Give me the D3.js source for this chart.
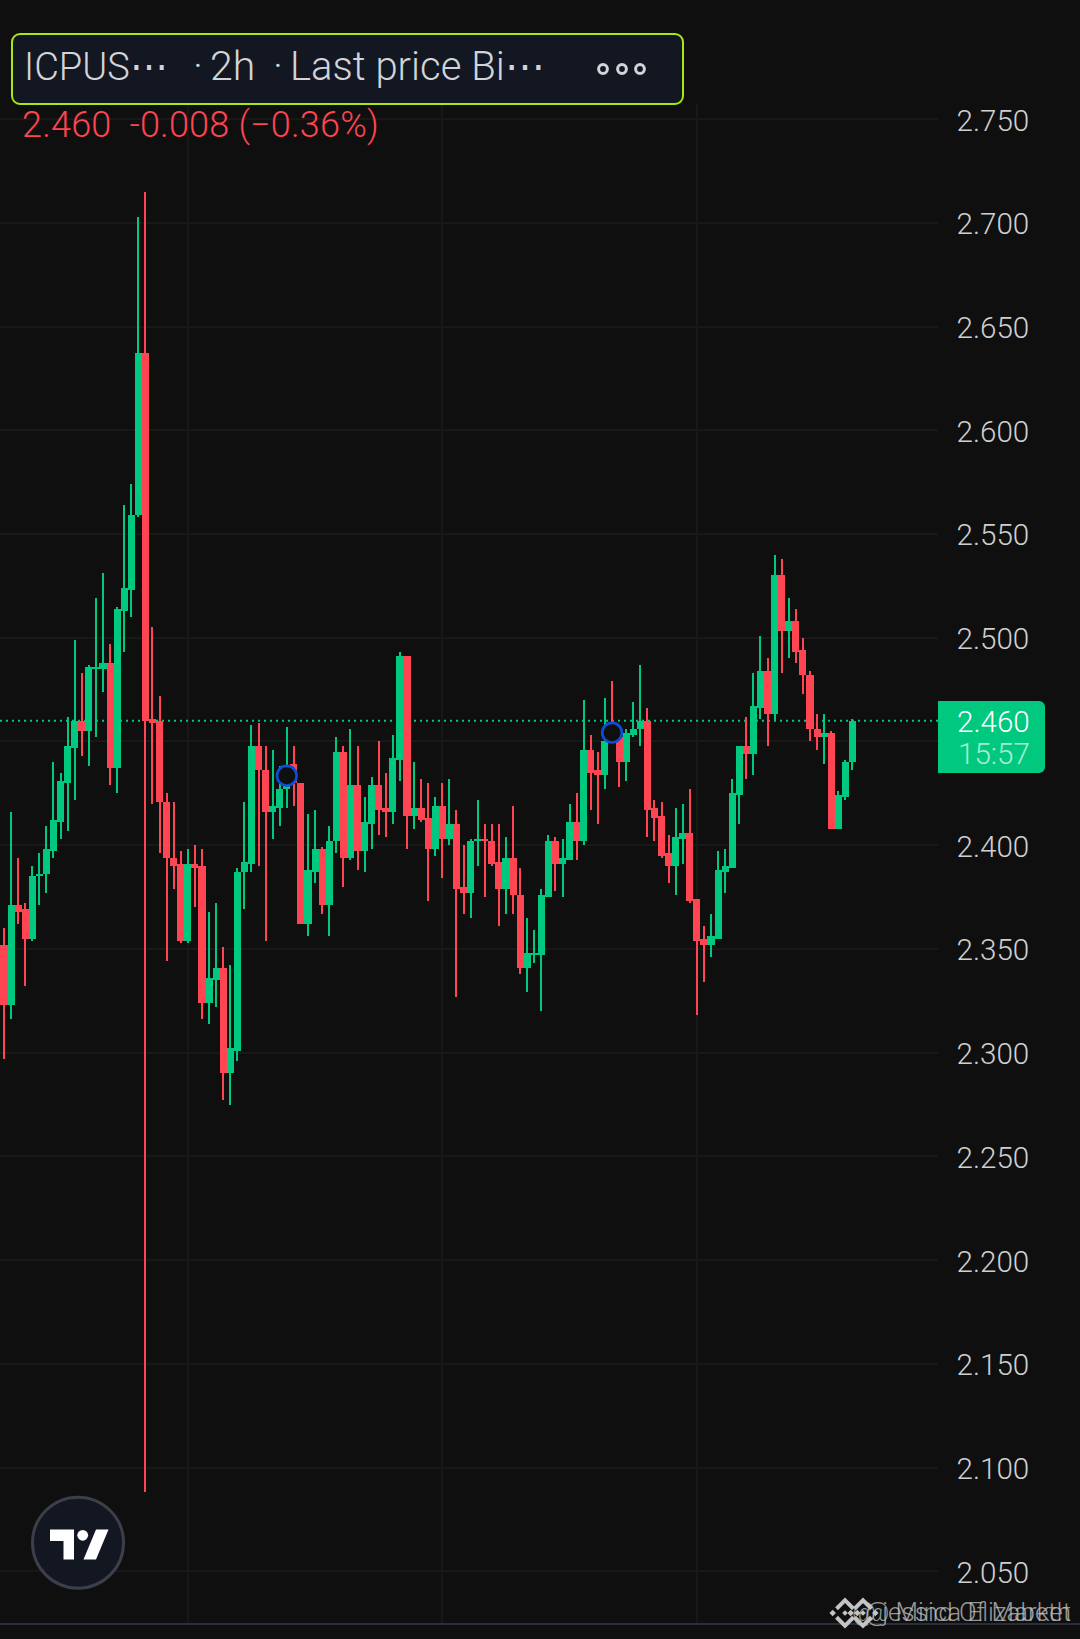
<!DOCTYPE html>
<html>
<head>
<meta charset="utf-8">
<style>
  html, body { margin: 0; padding: 0; background: #0f0f0f; }
  svg { display: block; }
  text { font-family: Roboto, "Noto Sans", sans-serif; font-weight: 300; }
</style>
<script src="https://cdn.jsdelivr.net/npm/d3@7"></script>
</head>
<body>
<div id="chart"></div>
<script>
// candle values, left to right
const opens = [2.352,2.323,2.371,2.369,2.355,2.385,2.386,2.397,2.411,2.430,2.447,2.460,2.455,2.485,2.485,2.488,2.437,2.513,2.523,2.559,2.637,
  2.461,2.460,2.421,2.394,2.391,2.354,2.391,2.390,2.324,2.335,2.341,2.290,2.301,2.387,2.391,2.448,2.436,2.416,2.418,2.427,
  2.439,2.430,2.362,2.387,2.398,2.371,2.402,2.445,2.394,2.429,2.397,2.410,2.429,2.418,2.416,2.441,2.491,2.414,2.418,2.413,
  2.398,2.419,2.403,2.410,2.380,2.377,2.402,2.403,2.402,2.392,2.379,2.394,2.376,2.341,2.347,2.347,2.375,2.402,2.391,2.393,
  2.411,2.402,2.446,2.436,2.434,2.456,2.452,2.440,2.453,2.456,2.460,2.418,2.414,2.396,2.390,2.403,2.406,2.374,2.355,2.352,
  2.355,2.387,2.389,2.424,2.448,2.444,2.466,2.484,2.463,2.530,2.503,2.508,2.494,2.482,2.456,2.452,2.454,2.408,2.423,2.440];
const closes = [2.323,2.371,2.368,2.355,2.385,2.386,2.398,2.412,2.431,2.448,2.460,2.455,2.486,2.486,2.488,2.437,2.514,2.524,2.559,2.637,2.460,
  2.459,2.421,2.394,2.390,2.354,2.391,2.389,2.324,2.336,2.341,2.290,2.302,2.387,2.392,2.448,2.436,2.416,2.419,2.427,2.437,
  2.430,2.362,2.388,2.398,2.371,2.402,2.445,2.394,2.429,2.397,2.411,2.429,2.417,2.416,2.442,2.491,2.414,2.418,2.412,2.398,
  2.419,2.403,2.410,2.379,2.377,2.402,2.403,2.402,2.391,2.379,2.394,2.376,2.341,2.348,2.348,2.376,2.402,2.391,2.394,2.411,
  2.402,2.446,2.435,2.434,2.450,2.451,2.440,2.454,2.456,2.460,2.417,2.413,2.395,2.390,2.404,2.406,2.373,2.354,2.352,2.356,
  2.388,2.390,2.425,2.448,2.444,2.467,2.484,2.463,2.530,2.503,2.508,2.493,2.482,2.456,2.452,2.454,2.408,2.424,2.440,2.460];
const highs = [2.360,2.416,2.394,2.372,2.390,2.396,2.409,2.440,2.435,2.462,2.499,2.483,2.487,2.519,2.531,2.497,2.515,2.564,2.574,2.703,2.715,
  2.505,2.472,2.425,2.421,2.397,2.398,2.400,2.398,2.368,2.372,2.351,2.342,2.389,2.421,2.458,2.459,2.448,2.446,2.438,2.457,
  2.448,2.430,2.415,2.417,2.399,2.409,2.452,2.448,2.456,2.448,2.423,2.433,2.450,2.435,2.453,2.493,2.491,2.440,2.432,2.430,
  2.423,2.430,2.432,2.417,2.400,2.403,2.422,2.410,2.410,2.410,2.404,2.419,2.389,2.365,2.359,2.379,2.405,2.404,2.403,2.420,
  2.425,2.470,2.453,2.445,2.471,2.479,2.456,2.456,2.469,2.487,2.466,2.422,2.421,2.405,2.418,2.420,2.427,2.374,2.361,2.367,
  2.397,2.398,2.432,2.448,2.462,2.483,2.501,2.490,2.540,2.538,2.519,2.514,2.500,2.484,2.463,2.463,2.455,2.426,2.441,2.461];
const lows = [2.297,2.316,2.362,2.332,2.354,2.371,2.377,2.394,2.403,2.407,2.422,2.443,2.438,2.452,2.474,2.429,2.425,2.493,2.510,2.558,2.088,
  2.420,2.396,2.344,2.379,2.353,2.353,2.370,2.316,2.314,2.322,2.277,2.275,2.296,2.369,2.387,2.390,2.354,2.403,2.409,2.418,
  2.419,2.362,2.356,2.382,2.367,2.356,2.396,2.380,2.393,2.388,2.387,2.398,2.405,2.404,2.410,2.431,2.398,2.408,2.411,2.373,
  2.395,2.384,2.400,2.327,2.367,2.365,2.390,2.375,2.390,2.361,2.367,2.367,2.338,2.329,2.343,2.320,2.375,2.378,2.375,2.393,
  2.393,2.400,2.417,2.410,2.427,2.450,2.428,2.431,2.452,2.448,2.404,2.402,2.394,2.382,2.376,2.391,2.372,2.318,2.334,2.346,
  2.355,2.377,2.389,2.410,2.432,2.434,2.461,2.448,2.460,2.483,2.490,2.488,2.473,2.450,2.446,2.439,2.408,2.408,2.422,2.436];

const priceTicks = [2.05,2.1,2.15,2.2,2.25,2.3,2.35,2.4,2.45,2.5,2.55,2.6,2.65,2.7,2.75];
const timeGridBars = [26,62,98];
const markerBars = [40,86];
const markerPrices = [2.4335,2.4542];
const lastPrice = 2.46;

const W = 1080, H = 1639;
const GREEN = "#00c97f", RED = "#ff4452", BG = "#0f0f0f", GRID = "#181818";
const plotRight = 938;

const x = d3.scaleLinear().domain([0, opens.length - 1]).range([4, 852.4]);
const y = d3.scaleLinear().domain([2.5, 2.35]).range([637.7, 948.9]);

const svg = d3.select("#chart").append("svg")
  .attr("width", W)
  .attr("height", H)
  .attr("viewBox", `0 0 ${W} ${H}`);

svg.append("rect").attr("width", W).attr("height", H).attr("fill", BG);

// grid
const gridG = svg.append("g").attr("shape-rendering", "crispEdges");
gridG.selectAll(".h").data(priceTicks).enter().append("line")
  .attr("x1", 0).attr("x2", plotRight)
  .attr("y1", d => y(d)).attr("y2", d => y(d))
  .attr("stroke", GRID).attr("stroke-width", 2);
gridG.selectAll(".v").data(timeGridBars).enter().append("line")
  .attr("x1", d => x(d)).attr("x2", d => x(d))
  .attr("y1", 104).attr("y2", 1624)
  .attr("stroke", GRID).attr("stroke-width", 2);

// bottom border
svg.append("line")
  .attr("x1", 0).attr("x2", W).attr("y1", 1624).attr("y2", 1624)
  .attr("stroke", "#2a2e39").attr("stroke-width", 2);

// last price line
svg.append("line")
  .attr("x1", 0).attr("x2", plotRight)
  .attr("y1", y(lastPrice)).attr("y2", y(lastPrice))
  .attr("stroke", GREEN).attr("stroke-width", 2)
  .attr("stroke-dasharray", "2 4");

// candles, snapped to whole pixels so neighbours touch like the original
const bars = d3.range(opens.length);
const barColor = i => closes[i] >= opens[i] ? GREEN : RED;
const bodyLeft = i => Math.round(x(i) - 3.53);
const candles = svg.append("g").attr("shape-rendering", "crispEdges");

candles.selectAll(".wick").data(bars).enter().append("rect")
  .attr("class", "wick")
  .attr("x", i => Math.round(x(i) - 1))
  .attr("width", 2)
  .attr("y", i => y(highs[i]))
  .attr("height", i => y(lows[i]) - y(highs[i]))
  .attr("fill", barColor);

candles.selectAll(".body").data(bars).enter().append("rect")
  .attr("class", "body")
  .attr("x", bodyLeft)
  .attr("width", i => bodyLeft(i + 1) - bodyLeft(i))
  .attr("y", i => y(Math.max(opens[i], closes[i])))
  .attr("height", i => Math.max(2, Math.abs(y(opens[i]) - y(closes[i]))))
  .attr("fill", barColor);

// blue event markers
svg.selectAll(".marker").data(markerBars).enter().append("circle")
  .attr("cx", d => x(d))
  .attr("cy", (d, i) => y(markerPrices[i]))
  .attr("r", 9.8)
  .attr("fill", BG)
  .attr("stroke", "#0b4fd8")
  .attr("stroke-width", 2.6);

// price axis, the tag covers whatever tick sits next to the last price
const yAxis = d3.axisRight(y)
  .tickValues(priceTicks.filter(t => Math.abs(t - lastPrice) > 0.03))
  .tickFormat(d3.format(".3f"))
  .tickSize(0)
  .tickPadding(0);

const axisG = svg.append("g")
  .attr("transform", "translate(956.5,1.5)")
  .call(yAxis);
axisG.select(".domain").remove();
axisG.selectAll("text")
  .attr("fill", "#cfcfcf")
  .style("font-family", "Roboto, sans-serif")
  .style("font-size", "29.6px");

// last price tag
svg.append("path")
  .attr("d", "M938,701H1039a6,6 0 0 1 6,6V767a6,6 0 0 1 -6,6H938Z")
  .attr("fill", GREEN);
svg.append("text")
  .attr("x", 957).attr("y", 732)
  .attr("fill", "#ffffff")
  .style("font-size", "29.6px")
  .text(d3.format(".3f")(lastPrice));
svg.append("text")
  .attr("x", 958).attr("y", 764)
  .attr("fill", "#a8efd2")
  .style("font-size", "29.6px")
  .text("15:57");

// legend box
svg.append("rect")
  .attr("x", 12).attr("y", 34)
  .attr("width", 671).attr("height", 70)
  .attr("rx", 8)
  .attr("fill", "#131722")
  .attr("stroke", "#a6e80f")
  .attr("stroke-width", 2);

const legendParts = ["ICPUS\u22EF", "\u00B7", "2h", "\u00B7", "Last price Bi\u22EF"];
const legendX = [24, 193, 210, 273, 290];
const legendSize = [38, 40, 41, 40, 40];
svg.selectAll(".legend").data(legendParts).enter().append("text")
  .attr("x", (d, i) => legendX[i])
  .attr("y", 80)
  .attr("fill", "#d1d4d8")
  .style("font-size", (d, i) => legendSize[i] + "px")
  .text(d => d);

svg.selectAll(".dot3").data([603, 622, 640]).enter().append("circle")
  .attr("cx", d => d).attr("cy", 69).attr("r", 4.4)
  .attr("fill", "none").attr("stroke", "#d1d4d8").attr("stroke-width", 3);
svg.append("text")
  .attr("x", 22).attr("y", 137)
  .attr("fill", RED)
  .style("white-space", "pre")
  .style("letter-spacing", "0.2px")
  .style("font-size", "36px")
  .text("2.460  -0.008 (\u22120.36%)");

// tradingview badge
svg.append("circle")
  .attr("cx", 78).attr("cy", 1542.7).attr("r", 45.5)
  .attr("fill", "#131722").attr("stroke", "#3c3f4a").attr("stroke-width", 3);
const logo = svg.append("g").attr("fill", "#ffffff");
logo.append("path").attr("d", "M50,1529.5H74V1559.5H63.5V1541H50Z");
logo.append("circle").attr("cx", 82.7).attr("cy", 1535.3).attr("r", 5.4);
logo.append("path").attr("d", "M96,1529.5H108.5L96,1559.5H83.5Z");

// watermark
function binance(cx, cy, s) {
  const g = svg.append("g")
    .attr("transform", `translate(${cx},${cy}) rotate(45) scale(${s})`)
    .attr("fill", "#c4c4c4");
  g.append("rect").attr("x", -1).attr("y", -1).attr("width", 2).attr("height", 2);
  g.append("path").attr("d", "M-5.5,-5.5H1.5V-3.5H-3.5V1.5H-5.5Z");
  g.append("path").attr("d", "M5.5,5.5H-1.5V3.5H3.5V-1.5H5.5Z");
  g.append("rect").attr("x", 3.2).attr("y", -5.5).attr("width", 2.3).attr("height", 2.3);
  g.append("rect").attr("x", -5.5).attr("y", 3.2).attr("width", 2.3).attr("height", 2.3);
}
binance(845, 1613, 2);
binance(863, 1613, 2);
const marks = ["@ Mind Of Market", "@ jessica Elizabeth"];
svg.selectAll(".mark").data(marks).enter().append("text")
  .attr("x", 1071).attr("y", 1621)
  .attr("text-anchor", "end")
  .attr("fill", "#c4c4c4").attr("fill-opacity", 0.75)
  .style("font-size", "26px")
  .text(d => d);
</script>
</body>
</html>
